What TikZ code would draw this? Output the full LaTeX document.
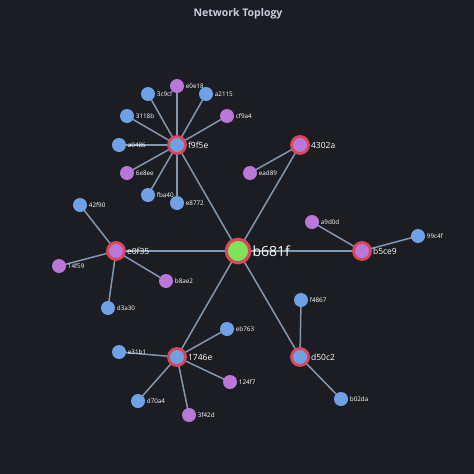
\documentclass[tikz,border=0pt]{standalone}
\usepackage{fontspec}
\setmainfont{Open Sans}
\usetikzlibrary{backgrounds}
\pgfdeclarelayer{bottom}
\pgfsetlayers{bottom,background,main}
\definecolor{bgc}{HTML}{1B1D23}
\definecolor{edgec}{HTML}{8497B0}
\definecolor{bluec}{HTML}{6FA1E6}
\definecolor{purpc}{HTML}{B877D9}
\definecolor{greenc}{HTML}{7EE25A}
\definecolor{ringc}{HTML}{D9475A}
\definecolor{titlec}{HTML}{CCCCDC}
\tikzset{
  leafb/.style={circle,fill=bluec,inner sep=0pt,minimum size=14pt},
  leafp/.style={circle,fill=purpc,inner sep=0pt,minimum size=14pt},
  hubb/.style={circle,fill=bluec,draw=ringc,line width=2.8pt,inner sep=0pt,minimum size=17pt},
  hubp/.style={circle,fill=purpc,draw=ringc,line width=2.8pt,inner sep=0pt,minimum size=17pt},
  rootn/.style={circle,fill=greenc,draw=ringc,line width=3.2pt,inner sep=0pt,minimum size=23.5pt},
  leaflbl/.style={text=white,font=\fontsize{6.3}{7}\selectfont,inner sep=0pt,label distance=1.5pt},
  hublbl/.style={text=white,font=\fontsize{8.5}{9}\selectfont,inner sep=0pt,label distance=1pt},
  rootlbl/.style={text=white,font=\fontsize{14}{15}\selectfont,inner sep=0pt,label distance=1pt},
  edge/.style={draw=edgec,line width=1.5pt}
}
\begin{document}
\begin{tikzpicture}[x=1pt,y=-1pt]
\begin{pgfonlayer}{bottom}
\fill[bgc] (0,0) rectangle (474,474);
\end{pgfonlayer}
\useasboundingbox (0,0) rectangle (474,474);
\node[text=titlec,font=\fontsize{10.5}{12}\selectfont\bfseries] (title) at (238,14) {Network Toplogy};
% root and hubs
\node[rootn,label={[rootlbl]0:b681f}] (b681f) at (238,251) {};
\node[hubb,label={[hublbl]0:f9f5e}] (f9f5e) at (177,145) {};
\node[hubp,label={[hublbl]0:4302a}] (n4302a) at (300,145) {};
\node[hubp,label={[hublbl]0:e0f35}] (e0f35) at (116,251) {};
\node[hubp,label={[hublbl]0:b5ce9}] (b5ce9) at (362,251) {};
\node[hubb,label={[hublbl]0:1746e}] (n1746e) at (177,357) {};
\node[hubb,label={[hublbl]0:d50c2}] (d50c2) at (300,357) {};
% leaves of f9f5e
\node[leafp,label={[leaflbl]0:e0e18}] (e0e18) at (177,86) {};
\node[leafb,label={[leaflbl]0:a2115}] (a2115) at (206,94) {};
\node[leafb,label={[leaflbl]0:3c9cf}] (n3c9cf) at (148,94) {};
\node[leafb,label={[leaflbl]0:3118b}] (n3118b) at (127,116) {};
\node[leafp,label={[leaflbl]0:cf9a4}] (cf9a4) at (227,116) {};
\node[leafb,label={[leaflbl]0:a0486}] (a0486) at (119,145) {};
\node[leafp,label={[leaflbl]0:6e8ee}] (n6e8ee) at (127,173) {};
\node[leafb,label={[leaflbl]0:fba40}] (fba40) at (148,195) {};
\node[leafb,label={[leaflbl]0:e8772}] (e8772) at (177,203) {};
% leaves of e0f35
\node[leafb,label={[leaflbl]0:42f90}] (n42f90) at (80,205) {};
\node[leafp,label={[leaflbl]0:14f59}] (n14f59) at (59,266) {};
\node[leafp,label={[leaflbl]0:b8ae2}] (b8ae2) at (166,281) {};
\node[leafb,label={[leaflbl]0:d3a30}] (d3a30) at (108,308) {};
% leaves of 4302a
\node[leafp,label={[leaflbl]0:ead89}] (ead89) at (250,173) {};
% leaves of b5ce9
\node[leafp,label={[leaflbl]0:a9d0d}] (a9d0d) at (312,222) {};
\node[leafb,label={[leaflbl]0:99c4f}] (n99c4f) at (418,236) {};
% leaves of 1746e
\node[leafb,label={[leaflbl]0:eb763}] (eb763) at (227,329) {};
\node[leafb,label={[leaflbl]0:e31b1}] (e31b1) at (119,352) {};
\node[leafp,label={[leaflbl]0:124f7}] (n124f7) at (230,382) {};
\node[leafb,label={[leaflbl]0:d70a4}] (d70a4) at (138,401) {};
\node[leafp,label={[leaflbl]0:3f42d}] (n3f42d) at (189,415) {};
% leaves of d50c2
\node[leafb,label={[leaflbl]0:f4867}] (f4867) at (301,300) {};
\node[leafb,label={[leaflbl]0:b02da}] (b02da) at (341,399) {};
% edges
\begin{pgfonlayer}{background}
\foreach \h in {f9f5e,n4302a,e0f35,b5ce9,n1746e,d50c2} \draw[edge] (b681f.center) -- (\h.center);
\foreach \l in {e0e18,a2115,n3c9cf,n3118b,cf9a4,a0486,n6e8ee,fba40,e8772} \draw[edge] (f9f5e.center) -- (\l.center);
\foreach \l in {n42f90,n14f59,b8ae2,d3a30} \draw[edge] (e0f35.center) -- (\l.center);
\draw[edge] (n4302a.center) -- (ead89.center);
\foreach \l in {a9d0d,n99c4f} \draw[edge] (b5ce9.center) -- (\l.center);
\foreach \l in {eb763,e31b1,n124f7,d70a4,n3f42d} \draw[edge] (n1746e.center) -- (\l.center);
\foreach \l in {f4867,b02da} \draw[edge] (d50c2.center) -- (\l.center);
\end{pgfonlayer}
\end{tikzpicture}
\end{document}
